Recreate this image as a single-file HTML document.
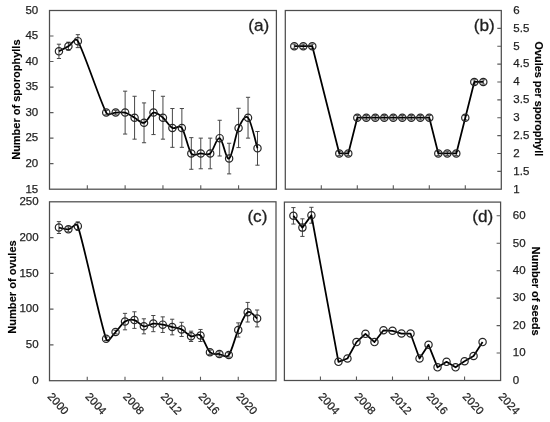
<!DOCTYPE html>
<html><head><meta charset="utf-8"><title>Chart</title>
<style>html,body{margin:0;padding:0;background:#fff;}body{width:550px;height:422px;overflow:hidden;}svg{display:block;}</style>
</head><body>
<svg width="550" height="422" viewBox="0 0 550 422">
<rect width="550" height="422" fill="#fff"/>
<rect x="49.5" y="10.5" width="226.9" height="178.7" fill="none" stroke="#4d4d4d" stroke-width="1.25"/>
<rect x="285.3" y="10.5" width="216" height="178.7" fill="none" stroke="#4d4d4d" stroke-width="1.25"/>
<rect x="49.5" y="201.8" width="226.5" height="178.9" fill="none" stroke="#4d4d4d" stroke-width="1.25"/>
<rect x="284.4" y="202.1" width="216.2" height="178.4" fill="none" stroke="#4d4d4d" stroke-width="1.25"/>
<path d="M87.32 189.2V185.2M125.13 189.2V185.2M162.95 189.2V185.2M200.77 189.2V185.2M238.58 189.2V185.2" stroke="#5a5a5a" stroke-width="1.1" fill="none"/>
<path d="M321.3 189.2V185.2M357.3 189.2V185.2M393.3 189.2V185.2M429.3 189.2V185.2M465.3 189.2V185.2" stroke="#5a5a5a" stroke-width="1.1" fill="none"/>
<path d="M87.25 380.7V376.7M125 380.7V376.7M162.75 380.7V376.7M200.5 380.7V376.7M238.25 380.7V376.7" stroke="#5a5a5a" stroke-width="1.1" fill="none"/>
<path d="M320.43 380.5V376.5M356.47 380.5V376.5M392.5 380.5V376.5M428.53 380.5V376.5M464.57 380.5V376.5" stroke="#5a5a5a" stroke-width="1.1" fill="none"/>
<path d="M49.5 163.67H53.5M49.5 138.14H53.5M49.5 112.61H53.5M49.5 87.09H53.5M49.5 61.56H53.5M49.5 36.03H53.5" stroke="#5a5a5a" stroke-width="1.1" fill="none"/>
<path d="M49.5 344.92H53.5M49.5 309.14H53.5M49.5 273.36H53.5M49.5 237.58H53.5" stroke="#5a5a5a" stroke-width="1.1" fill="none"/>
<path d="M501.3 171.33H497.3M501.3 153.46H497.3M501.3 135.59H497.3M501.3 117.72H497.3M501.3 99.85H497.3M501.3 81.98H497.3M501.3 64.11H497.3M501.3 46.24H497.3M501.3 28.37H497.3" stroke="#5a5a5a" stroke-width="1.1" fill="none"/>
<path d="M500.6 353.05H496.6M500.6 325.61H496.6M500.6 298.16H496.6M500.6 270.72H496.6M500.6 243.27H496.6M500.6 215.82H496.6" stroke="#5a5a5a" stroke-width="1.1" fill="none"/>
<g>
<path d="M58.95 44.2V58.49M56.85 44.2H61.05M56.85 58.49H61.05M68.41 42.16V50.32M66.31 42.16H70.51M66.31 50.32H70.51M77.86 34.65V47.62M75.76 34.65H79.96M75.76 47.62H79.96M106.22 110.32V114.91M104.12 110.32H108.32M104.12 114.91H108.32M115.68 110.32V114.91M113.58 110.32H117.78M113.58 114.91H117.78M125.13 91.17V134.06M123.03 91.17H127.23M123.03 134.06H127.23M134.59 96.28V139.16M132.49 96.28H136.69M132.49 139.16H136.69M144.04 102.91V142.74M141.94 102.91H146.14M141.94 142.74H146.14M153.5 90.66V134.57M151.4 90.66H155.6M151.4 134.57H155.6M162.95 96.28V139.16M160.85 96.28H165.05M160.85 139.16H165.05M172.4 108.53V147.33M170.3 108.53H174.5M170.3 147.33H174.5M181.86 108.53V147.33M179.76 108.53H183.96M179.76 147.33H183.96M191.31 137.63V169.29M189.21 137.63H193.41M189.21 169.29H193.41M200.77 138.14V168.78M198.67 138.14H202.87M198.67 168.78H202.87M210.22 138.14V168.78M208.12 138.14H212.32M208.12 168.78H212.32M219.67 120.27V156.01M217.57 120.27H221.77M217.57 156.01H221.77M229.13 143.25V173.88M227.03 143.25H231.23M227.03 173.88H231.23M238.58 108.27V147.59M236.48 108.27H240.68M236.48 147.59H240.68M248.04 97.3V138.14M245.94 97.3H250.14M245.94 138.14H250.14M257.49 131.51V165.2M255.39 131.51H259.59M255.39 165.2H259.59" stroke="#474747" stroke-width="1" fill="none"/>
<path d="M58.94 221.62V233.5M56.84 221.62H61.04M56.84 233.5H61.04M68.38 226.85V231.86M66.28 226.85H70.47M66.28 231.86H70.47M77.81 221.84V230.42M75.71 221.84H79.91M75.71 230.42H79.91M106.12 336.98V340.55M104.03 336.98H108.22M104.03 340.55H108.22M115.56 330.25V333.83M113.46 330.25H117.66M113.46 333.83H117.66M125 313.36V329.82M122.9 313.36H127.1M122.9 329.82H127.1M134.44 311.79V328.39M132.34 311.79H136.54M132.34 328.39H136.54M143.88 318.8V333.83M141.78 318.8H145.97M141.78 333.83H145.97M153.31 315.51V331.68M151.21 315.51H155.41M151.21 331.68H155.41M162.75 316.87V332.47M160.65 316.87H164.85M160.65 332.47H164.85M172.19 319.23V334.83M170.09 319.23H174.29M170.09 334.83H174.29M181.62 322.31V336.48M179.53 322.31H183.72M179.53 336.48H183.72M191.06 331.18V341.49M188.96 331.18H193.16M188.96 341.49H193.16M200.5 329.46V341.49M198.4 329.46H202.6M198.4 341.49H202.6M209.94 350.07V354.37M207.84 350.07H212.04M207.84 354.37H212.04M219.38 351.86V356.15M217.28 351.86H221.47M217.28 356.15H221.47M228.81 352.79V357.09M226.71 352.79H230.91M226.71 357.09H230.91M238.25 322.88V337.05M236.15 322.88H240.35M236.15 337.05H240.35M247.69 302.41V322.02M245.59 302.41H249.79M245.59 322.02H249.79M257.12 310V326.89M255.03 310H259.23M255.03 326.89H259.23" stroke="#474747" stroke-width="1" fill="none"/>
<path d="M293.41 207.59V224.06M291.31 207.59H295.51M291.31 224.06H295.51M302.42 218.84V236.41M300.32 218.84H304.52M300.32 236.41H304.52M311.42 207.31V223.23M309.32 207.31H313.52M309.32 223.23H313.52" stroke="#474747" stroke-width="1" fill="none"/>
<path d="M294.3 44.1V48.38M292.2 44.1H296.4M292.2 48.38H296.4M303.3 44.1V48.38M301.2 44.1H305.4M301.2 48.38H305.4M312.3 44.1V48.38M310.2 44.1H314.4M310.2 48.38H314.4M339.3 151.32V155.6M337.2 151.32H341.4M337.2 155.6H341.4M348.3 151.32V155.6M346.2 151.32H350.4M346.2 155.6H350.4M357.3 115.58V119.86M355.2 115.58H359.4M355.2 119.86H359.4M366.3 115.58V119.86M364.2 115.58H368.4M364.2 119.86H368.4M375.3 115.58V119.86M373.2 115.58H377.4M373.2 119.86H377.4M384.3 115.58V119.86M382.2 115.58H386.4M382.2 119.86H386.4M393.3 115.58V119.86M391.2 115.58H395.4M391.2 119.86H395.4M402.3 115.58V119.86M400.2 115.58H404.4M400.2 119.86H404.4M411.3 115.58V119.86M409.2 115.58H413.4M409.2 119.86H413.4M420.3 115.58V119.86M418.2 115.58H422.4M418.2 119.86H422.4M429.3 115.58V119.86M427.2 115.58H431.4M427.2 119.86H431.4M438.3 151.32V155.6M436.2 151.32H440.4M436.2 155.6H440.4M447.3 151.32V155.6M445.2 151.32H449.4M445.2 155.6H449.4M456.3 151.32V155.6M454.2 151.32H458.4M454.2 155.6H458.4M465.3 115.58V119.86M463.2 115.58H467.4M463.2 119.86H467.4M474.3 79.84V84.12M472.2 79.84H476.4M472.2 84.12H476.4M483.3 79.84V84.12M481.2 79.84H485.4M481.2 84.12H485.4" stroke="#474747" stroke-width="1" fill="none"/>
</g>
<path d="M58.95 51.35C60.53 50.49 65.26 47.94 68.41 46.24C71.56 44.54 75.2 36.47 77.86 41.13C84.17 52.2 99.92 100.7 106.22 112.61C108.44 116.79 112.53 112.61 115.68 112.61C118.83 112.61 121.98 111.76 125.13 112.61C128.28 113.47 131.44 116.02 134.59 117.72C137.74 119.42 140.89 123.68 144.04 122.83C147.19 121.97 150.34 113.47 153.5 112.61C156.65 111.76 159.8 115.17 162.95 117.72C166.1 120.27 169.25 126.23 172.4 127.93C175.56 129.63 179.04 124.13 181.86 127.93C185.01 132.19 188.16 149.21 191.31 153.46C194.13 157.26 197.62 153.46 200.77 153.46C203.92 153.46 207.07 156.01 210.22 153.46C213.37 150.91 216.52 137.29 219.67 138.14C222.83 138.99 225.98 160.27 229.13 158.57C232.28 156.86 235.43 134.74 238.58 127.93C241.51 121.62 244.89 114.32 248.04 117.72C251.19 121.12 255.92 143.25 257.49 148.35" fill="none" stroke="#000" stroke-width="1.75"/>
<polyline points="294.3,46.24 303.3,46.24 312.3,46.24 339.3,153.46 348.3,153.46 357.3,117.72 366.3,117.72 375.3,117.72 384.3,117.72 393.3,117.72 402.3,117.72 411.3,117.72 420.3,117.72 429.3,117.72 438.3,153.46 447.3,153.46 456.3,153.46 465.3,117.72 474.3,81.98 483.3,81.98" fill="none" stroke="#000" stroke-width="1.75" stroke-linejoin="round"/>
<path d="M58.94 227.56C60.51 227.86 65.23 229.59 68.38 229.35C71.52 229.11 76.19 221.42 77.81 226.13C84.1 244.37 99.83 321.11 106.12 338.77C108.07 344.22 112.42 334.9 115.56 332.04C118.71 329.18 121.85 323.58 125 321.59C128.15 319.6 131.29 319.3 134.44 320.09C137.58 320.88 140.73 325.73 143.88 326.31C147.02 326.9 150.17 323.87 153.31 323.6C156.46 323.32 159.6 324.1 162.75 324.67C165.9 325.24 169.04 326.24 172.19 327.03C175.33 327.82 178.48 327.84 181.62 329.39C184.77 330.94 187.92 335.32 191.06 336.33C194.21 337.35 197.35 332.83 200.5 335.47C203.65 338.12 206.79 349.13 209.94 352.22C213.08 355.31 216.23 353.55 219.38 354.01C222.52 354.46 225.88 358.67 228.81 354.94C231.96 350.93 235.1 337.08 238.25 329.96C241.4 322.84 244.54 314.14 247.69 312.22C250.83 310.3 255.55 317.41 257.12 318.44" fill="none" stroke="#000" stroke-width="1.75"/>
<polyline points="293.41,215.82 302.42,227.62 311.42,215.27 338.45,361.84 347.46,358.54 356.47,342.08 365.48,333.84 374.48,342.08 383.49,330.27 392.5,330.82 401.51,333.57 410.52,333.57 419.52,358.54 428.53,344.82 437.54,367.33 446.55,361.84 455.56,367.33 464.57,361.29 473.58,356.07 482.58,342.08" fill="none" stroke="#000" stroke-width="1.75" stroke-linejoin="round"/>
<g fill="none" stroke="#262626" stroke-width="1.2">
<circle cx="58.95" cy="51.35" r="3.65"/>
<circle cx="68.41" cy="46.24" r="3.65"/>
<circle cx="77.86" cy="41.13" r="3.65"/>
<circle cx="106.22" cy="112.61" r="3.65"/>
<circle cx="115.68" cy="112.61" r="3.65"/>
<circle cx="125.13" cy="112.61" r="3.65"/>
<circle cx="134.59" cy="117.72" r="3.65"/>
<circle cx="144.04" cy="122.83" r="3.65"/>
<circle cx="153.5" cy="112.61" r="3.65"/>
<circle cx="162.95" cy="117.72" r="3.65"/>
<circle cx="172.4" cy="127.93" r="3.65"/>
<circle cx="181.86" cy="127.93" r="3.65"/>
<circle cx="191.31" cy="153.46" r="3.65"/>
<circle cx="200.77" cy="153.46" r="3.65"/>
<circle cx="210.22" cy="153.46" r="3.65"/>
<circle cx="219.67" cy="138.14" r="3.65"/>
<circle cx="229.13" cy="158.57" r="3.65"/>
<circle cx="238.58" cy="127.93" r="3.65"/>
<circle cx="248.04" cy="117.72" r="3.65"/>
<circle cx="257.49" cy="148.35" r="3.65"/>
<circle cx="294.3" cy="46.24" r="3.65"/>
<circle cx="303.3" cy="46.24" r="3.65"/>
<circle cx="312.3" cy="46.24" r="3.65"/>
<circle cx="339.3" cy="153.46" r="3.65"/>
<circle cx="348.3" cy="153.46" r="3.65"/>
<circle cx="357.3" cy="117.72" r="3.65"/>
<circle cx="366.3" cy="117.72" r="3.65"/>
<circle cx="375.3" cy="117.72" r="3.65"/>
<circle cx="384.3" cy="117.72" r="3.65"/>
<circle cx="393.3" cy="117.72" r="3.65"/>
<circle cx="402.3" cy="117.72" r="3.65"/>
<circle cx="411.3" cy="117.72" r="3.65"/>
<circle cx="420.3" cy="117.72" r="3.65"/>
<circle cx="429.3" cy="117.72" r="3.65"/>
<circle cx="438.3" cy="153.46" r="3.65"/>
<circle cx="447.3" cy="153.46" r="3.65"/>
<circle cx="456.3" cy="153.46" r="3.65"/>
<circle cx="465.3" cy="117.72" r="3.65"/>
<circle cx="474.3" cy="81.98" r="3.65"/>
<circle cx="483.3" cy="81.98" r="3.65"/>
<circle cx="58.94" cy="227.56" r="3.65"/>
<circle cx="68.38" cy="229.35" r="3.65"/>
<circle cx="77.81" cy="226.13" r="3.65"/>
<circle cx="106.12" cy="338.77" r="3.65"/>
<circle cx="115.56" cy="332.04" r="3.65"/>
<circle cx="125" cy="321.59" r="3.65"/>
<circle cx="134.44" cy="320.09" r="3.65"/>
<circle cx="143.88" cy="326.31" r="3.65"/>
<circle cx="153.31" cy="323.6" r="3.65"/>
<circle cx="162.75" cy="324.67" r="3.65"/>
<circle cx="172.19" cy="327.03" r="3.65"/>
<circle cx="181.62" cy="329.39" r="3.65"/>
<circle cx="191.06" cy="336.33" r="3.65"/>
<circle cx="200.5" cy="335.47" r="3.65"/>
<circle cx="209.94" cy="352.22" r="3.65"/>
<circle cx="219.38" cy="354.01" r="3.65"/>
<circle cx="228.81" cy="354.94" r="3.65"/>
<circle cx="238.25" cy="329.96" r="3.65"/>
<circle cx="247.69" cy="312.22" r="3.65"/>
<circle cx="257.12" cy="318.44" r="3.65"/>
<circle cx="293.41" cy="215.82" r="3.65"/>
<circle cx="302.42" cy="227.62" r="3.65"/>
<circle cx="311.42" cy="215.27" r="3.65"/>
<circle cx="338.45" cy="361.84" r="3.65"/>
<circle cx="347.46" cy="358.54" r="3.65"/>
<circle cx="356.47" cy="342.08" r="3.65"/>
<circle cx="365.48" cy="333.84" r="3.65"/>
<circle cx="374.48" cy="342.08" r="3.65"/>
<circle cx="383.49" cy="330.27" r="3.65"/>
<circle cx="392.5" cy="330.82" r="3.65"/>
<circle cx="401.51" cy="333.57" r="3.65"/>
<circle cx="410.52" cy="333.57" r="3.65"/>
<circle cx="419.52" cy="358.54" r="3.65"/>
<circle cx="428.53" cy="344.82" r="3.65"/>
<circle cx="437.54" cy="367.33" r="3.65"/>
<circle cx="446.55" cy="361.84" r="3.65"/>
<circle cx="455.56" cy="367.33" r="3.65"/>
<circle cx="464.57" cy="361.29" r="3.65"/>
<circle cx="473.58" cy="356.07" r="3.65"/>
<circle cx="482.58" cy="342.08" r="3.65"/>
</g>
<g fill="#1f1f1f" stroke="#1f1f1f" stroke-width="0.25" font-family='"Liberation Sans", Arial, sans-serif'>
<text x="38.2" y="192.5" text-anchor="end" font-size="11.5">15</text>
<text x="38.2" y="166.97" text-anchor="end" font-size="11.5">20</text>
<text x="38.2" y="141.44" text-anchor="end" font-size="11.5">25</text>
<text x="38.2" y="115.91" text-anchor="end" font-size="11.5">30</text>
<text x="38.2" y="90.39" text-anchor="end" font-size="11.5">35</text>
<text x="38.2" y="64.86" text-anchor="end" font-size="11.5">40</text>
<text x="38.2" y="39.33" text-anchor="end" font-size="11.5">45</text>
<text x="38.2" y="13.8" text-anchor="end" font-size="11.5">50</text>
<text x="38.6" y="384" text-anchor="end" font-size="11.5">0</text>
<text x="38.6" y="348.22" text-anchor="end" font-size="11.5">50</text>
<text x="38.6" y="312.44" text-anchor="end" font-size="11.5">100</text>
<text x="38.6" y="276.66" text-anchor="end" font-size="11.5">150</text>
<text x="38.6" y="240.88" text-anchor="end" font-size="11.5">200</text>
<text x="38.6" y="205.1" text-anchor="end" font-size="11.5">250</text>
<text x="513.3" y="192.5" text-anchor="start" font-size="11.5">1</text>
<text x="513.3" y="174.63" text-anchor="start" font-size="11.5">1.5</text>
<text x="513.3" y="156.76" text-anchor="start" font-size="11.5">2</text>
<text x="513.3" y="138.89" text-anchor="start" font-size="11.5">2.5</text>
<text x="513.3" y="121.02" text-anchor="start" font-size="11.5">3</text>
<text x="513.3" y="103.15" text-anchor="start" font-size="11.5">3.5</text>
<text x="513.3" y="85.28" text-anchor="start" font-size="11.5">4</text>
<text x="513.3" y="67.41" text-anchor="start" font-size="11.5">4.5</text>
<text x="513.3" y="49.54" text-anchor="start" font-size="11.5">5</text>
<text x="513.3" y="31.67" text-anchor="start" font-size="11.5">5.5</text>
<text x="513.3" y="13.8" text-anchor="start" font-size="11.5">6</text>
<text x="512.8" y="383.8" text-anchor="start" font-size="11.5">0</text>
<text x="512.8" y="356.35" text-anchor="start" font-size="11.5">10</text>
<text x="512.8" y="328.91" text-anchor="start" font-size="11.5">20</text>
<text x="512.8" y="301.46" text-anchor="start" font-size="11.5">30</text>
<text x="512.8" y="274.02" text-anchor="start" font-size="11.5">40</text>
<text x="512.8" y="246.57" text-anchor="start" font-size="11.5">50</text>
<text x="512.8" y="219.12" text-anchor="start" font-size="11.5">60</text>
<text transform="translate(47 397) rotate(47.5)" font-size="11.2">2000</text>
<text transform="translate(84.75 397) rotate(47.5)" font-size="11.2">2004</text>
<text transform="translate(122.5 397) rotate(47.5)" font-size="11.2">2008</text>
<text transform="translate(160.25 397) rotate(47.5)" font-size="11.2">2012</text>
<text transform="translate(198 397) rotate(47.5)" font-size="11.2">2016</text>
<text transform="translate(235.75 397) rotate(47.5)" font-size="11.2">2020</text>
<text transform="translate(317.93 397) rotate(47.5)" font-size="11.2">2004</text>
<text transform="translate(353.97 397) rotate(47.5)" font-size="11.2">2008</text>
<text transform="translate(390 397) rotate(47.5)" font-size="11.2">2012</text>
<text transform="translate(426.03 397) rotate(47.5)" font-size="11.2">2016</text>
<text transform="translate(462.07 397) rotate(47.5)" font-size="11.2">2020</text>
<text transform="translate(498.1 397) rotate(47.5)" font-size="11.2">2024</text>
<text x="248.3" y="31.3" text-anchor="start" font-size="17.2" stroke-width="0.3">(a)</text>
<text x="473.8" y="31.3" text-anchor="start" font-size="17.2" stroke-width="0.3">(b)</text>
<text x="247.4" y="222.3" text-anchor="start" font-size="17.2" stroke-width="0.3">(c)</text>
<text x="472.2" y="222.3" text-anchor="start" font-size="17.2" stroke-width="0.3">(d)</text>
<g font-weight="bold" font-size="10.5" fill="#000" stroke="#000" stroke-width="0.15">
<text transform="translate(19.7 159.8) rotate(-90)" textLength="120.3" lengthAdjust="spacingAndGlyphs">Number of sporophylls</text>
<text transform="translate(15.8 333.7) rotate(-90)" textLength="93.4" lengthAdjust="spacingAndGlyphs">Number of ovules</text>
<text transform="translate(535.3 41.5) rotate(90)" textLength="114.7" lengthAdjust="spacingAndGlyphs">Ovules per sporophyll</text>
<text transform="translate(531.6 246.6) rotate(90)" textLength="89" lengthAdjust="spacingAndGlyphs">Number of seeds</text>
</g>
</g>
</svg>
</body></html>
